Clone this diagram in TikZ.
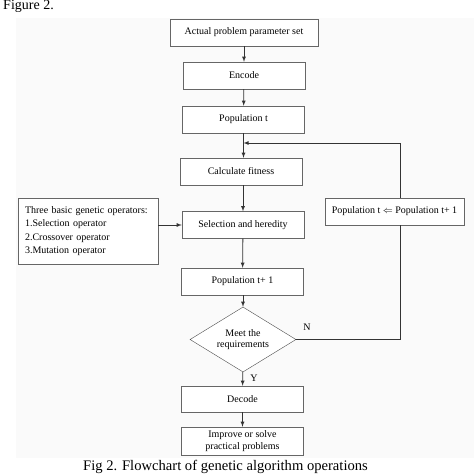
\documentclass[tikz,border=0pt]{standalone}
\usepackage{fontspec}
\setmainfont{Liberation Serif}
\usetikzlibrary{shapes.geometric,calc}
\tikzset{
  flowbox/.style={draw=black!60,fill=white,minimum width=122pt,minimum height=27pt,inner sep=2pt,
    font=\fontsize{10}{11.5}\selectfont,align=center},
  flowtest/.style={diamond,draw=black!70,fill=white,aspect=1.6,inner sep=0pt,minimum width=106pt,
    minimum height=65pt,font=\fontsize{10}{11.5}\selectfont,align=center},
  flowline/.style={draw=black!80,line width=0.8pt},
  flowarrow/.style={flowline,-latex},
  flowlabel/.style={font=\fontsize{10}{11.5}\selectfont,inner sep=0pt}
}

\begin{document}
\begin{tikzpicture}[x=1pt,y=-1pt]
\useasboundingbox (0,0) rectangle (474,476);
\fill[black!2] (16,18) rectangle (474,458);
\node[anchor=north east,font=\fontsize{14}{16}\selectfont,inner sep=0pt] (figref) at (54,0.5) {Figure 2.};

\node[flowbox,minimum width=148pt] (param) at (244,32.5) {Actual problem parameter set};
\node[flowbox] (encode) at (244,75.5) {Encode};
\node[flowbox] (pop) at (243.5,119.5) {Population t};
\node[flowbox] (fitness) at (241,171.5) {Calculate fitness};
\node[flowbox] (select) at (243,225) {Selection and heredity};
\node[flowbox] (popnext) at (242.5,281.5) {Population t+ 1};
\node[flowtest] (meet) at (243,339.5) {Meet the\\requirements};
\node[flowbox,minimum height=26pt] (decode) at (242.5,399) {Decode};
\node[flowbox,minimum height=28pt] (improve) at (242.5,441) {Improve or solve\\practical problems};

\node[flowbox,minimum width=140pt,minimum height=66pt,align=left,text width=126pt,
  font=\fontsize{10}{13.6}\selectfont] (ops) at (88,231)
  {Three basic genetic operators:\\1.Selection operator\\2.Crossover operator\\3.Mutation operator};
\node[flowbox,minimum width=139pt] (update) at (394.5,211.5) {Population t $\Leftarrow$ Population t+ 1};

\coordinate (back) at (400,143);
\coordinate (join) at (pop.south |- back);

\draw[flowarrow] (param) -- (encode);
\draw[flowarrow] (encode) -- (pop);
\draw[flowarrow] (pop.south) -- (pop.south |- fitness.north);
\draw[flowarrow] (fitness.south -| select.north) -- (select.north);
\draw[flowarrow] (select) -- (popnext);
\draw[flowarrow] (popnext.south -| meet.north) -- (meet.north);
\draw[flowarrow] (meet) -- (decode);
\draw[flowarrow] (decode) -- (improve);
\draw[flowarrow] (ops.east |- select.west) -- (select.west);

\draw[flowline] (meet.east) -| (update.south -| back);
\draw[flowarrow] (update.north -| back) -- (back) -- (join);

\node[flowlabel] (nlabel) at (307,327) {N};
\node[flowlabel] (ylabel) at (254,378) {Y};

\node[font=\fontsize{14.6}{16}\selectfont,inner sep=0pt] (caption) at (225.5,467)
  {Fig 2. Flowchart of genetic algorithm operations};
\end{tikzpicture}
\end{document}
